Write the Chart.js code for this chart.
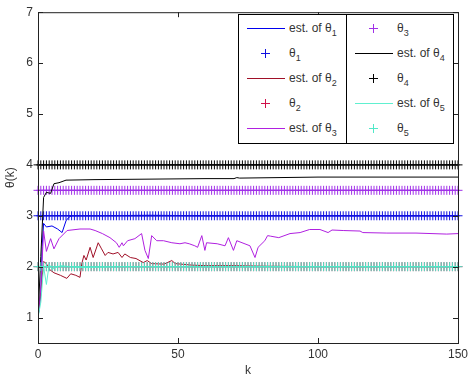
<!DOCTYPE html>
<html>
<head>
<meta charset="utf-8">
<script src="https://cdn.jsdelivr.net/npm/chart.js@4.4.1/dist/chart.umd.min.js"></script>
<style>
  body { margin: 0; background: #fff; }
  #wrap { position: relative; width: 474px; height: 386px; }
  #legend {
    position: absolute; left: 238px; top: 14px; width: 214px; height: 128px;
    border: 1px solid #000; background: #fff;
    font-family: "Liberation Sans", Arial, sans-serif; font-size: 12px; color: #333;
  }
  #legend .col { position: absolute; top: 0; width: 107px; height: 128px; }
  #legend .col2 { left: 107px; border-left: 1px solid #000; }
  #legend .item { position: absolute; left: 0; width: 107px; height: 20px; }
  #legend .ln { position: absolute; left: 8px; width: 38px; top: 9px; height: 1px; }
  #legend .ch { position: absolute; left: 22px; top: 9px; width: 9px; height: 1px; }
  #legend .cv { position: absolute; left: 26px; top: 5px; width: 1px; height: 9px; }
  #legend .tx { position: absolute; top: 2px; white-space: nowrap; }
  #legend sub { font-size: 9px; vertical-align: -4px; }
</style>
</head>
<body>
<div id="wrap">
  <canvas id="c" width="474" height="386"></canvas>
  <div id="legend"></div>
</div>
<script>
// time steps k = 0..150 (markers of the true parameters are drawn at every step)
const kSteps = Array.from({ length: 151 }, (_, i) => i);
const thetaTrue = [3, 2, 3.5, 4, 2];

// estimated parameters (k, value)
const est1K = [0, 1, 1.5, 2, 3, 5, 7, 8.6, 10, 11, 12, 20, 40, 60, 80, 100, 120, 150];
const est1V = [1.0, 1.45, 2.4, 2.85, 2.78, 2.8, 2.74, 2.67, 2.9, 2.97, 3.0, 3.0, 3.01, 3.0, 3.0, 3.0, 3.0, 3.0];

const est2K = [0, 1, 2, 3, 4, 5.7, 8, 10.3, 11.7, 13.5, 15, 15.6, 16.4, 17.2, 18.6, 19.7, 21.5, 22.7, 24, 25, 26.8, 28.6, 30, 31, 33, 35, 37.6, 39, 40.6, 45, 47.8, 49, 55, 60, 70, 80, 100, 150];
const est2V = [1.0, 1.5, 2.1, 2.06, 1.95, 1.88, 1.83, 1.77, 1.86, 1.83, 1.79, 2.05, 2.22, 2.13, 2.38, 2.18, 2.47, 2.35, 2.22, 2.28, 2.25, 2.28, 2.18, 2.25, 2.18, 2.16, 2.08, 2.12, 2.06, 2.05, 2.12, 2.06, 2.03, 2.02, 2.02, 2.01, 2.0, 2.0];

const est3K = [0, 1, 2, 3, 4.5, 5.7, 7.5, 10.4, 15, 18.6, 20.4, 23, 25.7, 28, 29, 30, 30.5, 32, 34.6, 37, 38.2, 39.4, 40.6, 42.4, 44.8, 47.8, 50.7, 52.5, 54, 56, 57, 58.5, 59.6, 60.2, 64, 66.8, 68, 69.8, 71, 75.7, 77.5, 78.6, 81, 82, 83, 86, 90, 93.6, 97, 100.7, 103.6, 105, 109, 115, 116, 124.6, 135, 146, 150];
const est3V = [1.0, 1.6, 2.7, 2.3, 2.55, 2.35, 2.55, 2.71, 2.74, 2.74, 2.71, 2.65, 2.57, 2.47, 2.38, 2.47, 2.41, 2.51, 2.55, 2.65, 2.32, 2.16, 2.61, 2.51, 2.51, 2.47, 2.45, 2.47, 2.45, 2.41, 2.38, 2.61, 2.32, 2.47, 2.45, 2.41, 2.57, 2.32, 2.51, 2.41, 2.18, 2.38, 2.51, 2.61, 2.6, 2.57, 2.65, 2.67, 2.73, 2.73, 2.67, 2.72, 2.71, 2.7, 2.67, 2.66, 2.66, 2.64, 2.65];

const est4K = [0, 1, 2, 3, 4.5, 5.7, 7.5, 10, 20, 40, 60, 70, 71, 72, 100, 150];
const est4V = [1.0, 2.2, 3.36, 3.46, 3.44, 3.63, 3.65, 3.7, 3.71, 3.72, 3.73, 3.73, 3.75, 3.74, 3.76, 3.76];

const est5K = [0, 1, 2, 3, 4, 5, 8, 15, 30, 60, 100, 150];
const est5V = [1.0, 1.3, 2.0, 1.65, 2.05, 1.95, 2.02, 1.98, 2.0, 2.0, 2.0, 2.0];

const xTickVals = [0, 50, 100, 150];
const yTickVals = [1, 2, 3, 4, 5, 6, 7];

const lineColors = ['#0000ee', '#a01028', '#b020e0', '#000000', '#60f0d0'];
const markColors = ['#1010e0', '#d0104a', '#a030e8', '#000000', '#50e8c8'];

const estK = [est1K, est2K, est3K, est4K, est5K];
const estV = [est1V, est2V, est3V, est4V, est5V];

const datasets = [];
const legendItems = [];
for (let i = 0; i < 5; i++) {
  datasets.push({
    label: 'est. of θ' + (i + 1),
    data: estK[i].map((k, j) => ({ x: k, y: estV[i][j] })),
    showLine: true,
    borderColor: lineColors[i],
    backgroundColor: lineColors[i],
    borderWidth: 1,
    pointRadius: 0,
    tension: 0,
    order: 20 - 2 * i
  });
  legendItems.push({ line: true, color: lineColors[i], num: i + 1 });
  datasets.push({
    label: 'θ' + (i + 1),
    data: kSteps.map(k => ({ x: k, y: thetaTrue[i] })),
    showLine: false,
    pointStyle: 'cross',
    pointRadius: 4.5,
    pointBorderWidth: 1,
    borderColor: markColors[i],
    backgroundColor: markColors[i],
    clip: false,
    order: 19 - 2 * i
  });
  legendItems.push({ line: false, color: markColors[i], num: i + 1 });
}

// MATLAB-like box with inward ticks
const framePlugin = {
  id: 'frame',
  afterDatasetsDraw(chart) {
    const { ctx, chartArea: a, scales } = chart;
    ctx.save();
    ctx.strokeStyle = '#222';
    ctx.lineWidth = 1;
    ctx.strokeRect(a.left + 0.5, a.top + 0.5, a.right - a.left, a.bottom - a.top);
    ctx.beginPath();
    xTickVals.forEach(v => {
      const x = Math.round(scales.x.getPixelForValue(v)) + 0.5;
      ctx.moveTo(x, a.bottom); ctx.lineTo(x, a.bottom - 5);
      ctx.moveTo(x, a.top); ctx.lineTo(x, a.top + 5);
    });
    yTickVals.forEach(v => {
      const y = Math.round(scales.y.getPixelForValue(v)) + 0.5;
      ctx.moveTo(a.left, y); ctx.lineTo(a.left + 5, y);
      ctx.moveTo(a.right, y); ctx.lineTo(a.right - 5, y);
    });
    ctx.stroke();
    ctx.restore();
  }
};

const font = { family: '"Liberation Sans", Arial, sans-serif', size: 12 };

new Chart(document.getElementById('c'), {
  type: 'scatter',
  data: { datasets },
  options: {
    responsive: false,
    animation: false,
    devicePixelRatio: 1,
    layout: { padding: { top: 12, right: 16, bottom: 0, left: 0 } },
    plugins: { legend: { display: false }, tooltip: { enabled: false } },
    scales: {
      x: {
        type: 'linear', min: 0, max: 150,
        grid: { display: false, drawTicks: false },
        border: { display: false },
        ticks: { font, color: '#333', padding: 4 },
        afterBuildTicks: s => { s.ticks = xTickVals.map(v => ({ value: v })); },
        afterFit: s => { s.height = 43; },
        title: { display: true, text: 'k', font, color: '#333', padding: { top: 0, bottom: 8 } }
      },
      y: {
        type: 'linear', min: 0.5, max: 7,
        grid: { display: false, drawTicks: false },
        border: { display: false },
        ticks: { font, color: '#333', padding: 5 },
        afterBuildTicks: s => { s.ticks = yTickVals.map(v => ({ value: v })); },
        afterFit: s => { s.width = 38; },
        title: { display: true, text: 'θ(k)', font, color: '#333', padding: { top: 3, bottom: 0 } }
      }
    }
  },
  plugins: [framePlugin]
});

// legend: MATLAB fills it column by column
const legendEl = document.getElementById('legend');
const cols = [document.createElement('div'), document.createElement('div')];
cols[0].className = 'col';
cols[1].className = 'col col2';
legendItems.forEach((it, idx) => {
  const col = cols[idx < 5 ? 0 : 1];
  const item = document.createElement('div');
  item.className = 'item';
  item.style.top = (4 + (idx % 5) * 25) + 'px';
  if (it.line) {
    item.innerHTML = '<div class="ln" style="background:' + it.color + '"></div>' +
      '<span class="tx" style="left:50px">est. of θ<sub>' + it.num + '</sub></span>';
  } else {
    item.innerHTML = '<div class="ch" style="background:' + it.color + '"></div>' +
      '<div class="cv" style="background:' + it.color + '"></div>' +
      '<span class="tx" style="left:50px">θ<sub>' + it.num + '</sub></span>';
  }
  col.appendChild(item);
});
legendEl.appendChild(cols[0]);
legendEl.appendChild(cols[1]);
</script>
</body>
</html>
